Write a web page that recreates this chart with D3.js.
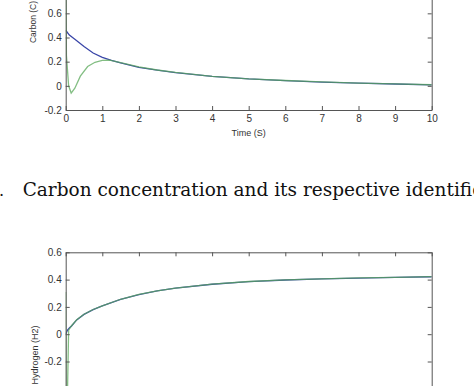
<!DOCTYPE html>
<html>
<head>
<meta charset="utf-8">
<script src="https://cdn.jsdelivr.net/npm/d3@7"></script>
<style>
  body { margin: 0; background: #fff; }
  svg { display: block; }
</style>
</head>
<body>
<div id="chart"></div>
<script>
// carbon: measured (blue) and identified (green)
var carbonTime = [0, 0.1, 0.25, 0.5, 0.75, 1, 1.25, 1.5, 2, 2.5, 3, 4, 5, 6, 7, 8, 9, 10];
var carbonMeasured = [0.46, 0.42, 0.385, 0.325, 0.272, 0.235, 0.21, 0.19, 0.153, 0.13, 0.11, 0.078, 0.057, 0.043, 0.031, 0.022, 0.015, 0.008];
var carbonIdTime = [0, 0.02, 0.08, 0.15, 0.25, 0.4, 0.6, 0.8, 1, 1.2, 1.5, 2, 2.5, 3, 4, 5, 6, 7, 8, 9, 10];
var carbonIdent = [1.2, 0.25, 0.0, -0.06, -0.02, 0.08, 0.16, 0.195, 0.21, 0.212, 0.192, 0.156, 0.131, 0.111, 0.079, 0.058, 0.044, 0.032, 0.023, 0.016, 0.009];

// hydrogen: measured (blue) and identified (green)
var hydTime = [0, 0.05, 0.1, 0.16, 0.3, 0.5, 0.75, 1, 1.5, 2, 2.5, 3, 4, 5, 6, 7, 8, 9, 10];
var hydMeasured = [0.0, 0.03, 0.045, 0.06, 0.105, 0.145, 0.18, 0.207, 0.255, 0.29, 0.317, 0.337, 0.366, 0.385, 0.397, 0.405, 0.411, 0.416, 0.421];
var hydIdTime = [0, 0.01, 0.08, 0.16, 0.3, 0.5, 0.75, 1, 1.5, 2, 2.5, 3, 4, 5, 6, 7, 8, 9, 10];
var hydIdent = [0.31, -1.0, 0.03, 0.062, 0.106, 0.146, 0.181, 0.208, 0.256, 0.291, 0.318, 0.338, 0.367, 0.386, 0.398, 0.406, 0.412, 0.417, 0.422];

var xTicks = [0, 1, 2, 3, 4, 5, 6, 7, 8, 9, 10];
var carbonYTicks = [-0.2, 0, 0.2, 0.4, 0.6];
var hydYTicks = [-0.2, 0, 0.2, 0.4, 0.6];

var width = 474, height = 386;
var blue = "#3a46a8", green = "#5aa85a";

var svg = d3.select("#chart").append("svg")
    .attr("width", width)
    .attr("height", height)
    .style("background", "#fff");

var x = d3.scaleLinear().domain([0, 10]).range([65.7, 431.7]);

function fmt(d) {
    return d === 0 ? "0" : d3.format(".1f")(d).replace("\u2212", "-");
}

function panel(id, y, yTicks, top, bottom, series, xLabels) {
    var g = svg.append("g");

    g.append("clipPath").attr("id", id)
        .append("rect")
        .attr("x", x.range()[0]).attr("y", top)
        .attr("width", x.range()[1] - x.range()[0]).attr("height", bottom - top);

    var line = d3.line()
        .x(function (d) { return x(d[0]); })
        .y(function (d) { return y(d[1]); });

    series.forEach(function (s) {
        g.append("path")
            .datum(d3.zip(s.t, s.v))
            .attr("clip-path", "url(#" + id + ")")
            .attr("fill", "none")
            .attr("stroke", s.color)
            .attr("stroke-width", 1.3)
            .attr("stroke-opacity", s.op)
            .attr("d", line);
    });

    var bx = g.append("g").attr("transform", "translate(0," + bottom + ")")
        .call(d3.axisBottom(x).tickValues(xTicks).tickSizeInner(-4).tickSizeOuter(0)
            .tickPadding(5).tickFormat(xLabels ? d3.format("d") : ""));
    var tx = g.append("g").attr("transform", "translate(0," + top + ")")
        .call(d3.axisTop(x).tickValues(xTicks).tickSizeInner(-4).tickSizeOuter(0).tickFormat(""));
    var ly = g.append("g").attr("transform", "translate(" + x.range()[0] + ",0)")
        .call(d3.axisLeft(y).tickValues(yTicks).tickSizeInner(-4).tickSizeOuter(0)
            .tickPadding(4).tickFormat(fmt));
    var ry = g.append("g").attr("transform", "translate(" + x.range()[1] + ",0)")
        .call(d3.axisRight(y).tickValues(yTicks).tickSizeInner(-4).tickSizeOuter(0).tickFormat(""));

    [bx, tx, ly, ry].forEach(function (a) {
        a.selectAll("path, line").attr("stroke", "#555");
        a.selectAll("text").attr("fill", "#333")
            .style("font-family", "'Liberation Sans', Arial, sans-serif")
            .style("font-size", "10px");
    });
    return g;
}

// top panel: carbon
var yC = d3.scaleLinear().domain([-0.2, 1.0]).range([110, -35]);
var gC = panel("clipC", yC, carbonYTicks, -35, 110, [
    { t: carbonTime, v: carbonMeasured, color: blue, op: 1 },
    { t: carbonIdTime, v: carbonIdent, color: green, op: 0.75 }
], true);

gC.append("text")
    .attr("transform", "translate(36,22) rotate(-90)")
    .attr("text-anchor", "middle")
    .attr("fill", "#333")
    .style("font-family", "'Liberation Sans', Arial, sans-serif")
    .style("font-size", "8.5px")
    .text("Carbon (C)");

gC.append("text")
    .attr("x", x(5)).attr("y", 136)
    .attr("text-anchor", "middle")
    .attr("fill", "#333")
    .style("font-family", "'Liberation Sans', Arial, sans-serif")
    .style("font-size", "9px")
    .text("Time (S)");

// caption
svg.append("text")
    .attr("x", 4).attr("y", 196)
    .attr("text-anchor", "end")
    .style("font-family", "'DejaVu Serif', serif")
    .style("font-size", "16px")
    .attr("fill", "#111")
    .text("1.");

var cap = svg.append("text")
    .attr("x", 22.7).attr("y", 196)
    .style("font-family", "'DejaVu Serif', serif")
    .style("font-size", "16px")
    .attr("fill", "#111");
var part = cap.append("tspan").text("Carbon concentration and its respective identif");
var w = part.node().getComputedTextLength();
cap.style("font-size", (16 * (467 - 22.7) / w) + "px");
cap.append("tspan").text("ication");

// bottom panel: hydrogen
var yH = d3.scaleLinear().domain([-0.8, 0.6]).range([252.3 + 7 * 27.3, 252.3]);
var gH = panel("clipH", yH, hydYTicks, 252.3, 252.3 + 7 * 27.3, [
    { t: hydTime, v: hydMeasured, color: blue, op: 1 },
    { t: hydIdTime, v: hydIdent, color: green, op: 0.75 }
], false);

gH.append("text")
    .attr("transform", "translate(38,355) rotate(-90)")
    .attr("text-anchor", "middle")
    .attr("fill", "#333")
    .style("font-family", "'Liberation Sans', Arial, sans-serif")
    .style("font-size", "9px")
    .text("Hydrogen (H2)");
</script>
</body>
</html>
